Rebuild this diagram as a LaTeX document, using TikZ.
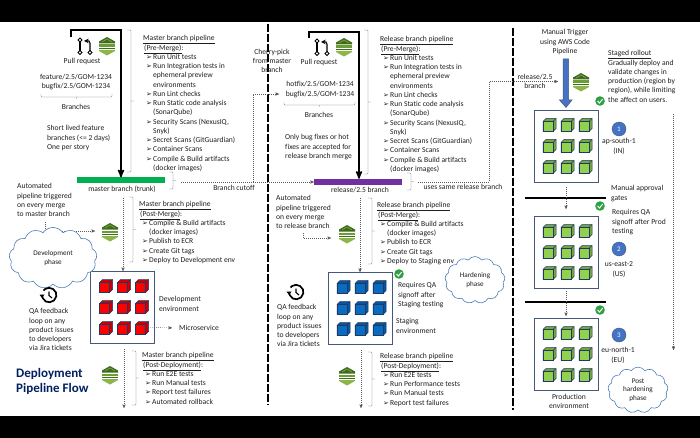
\documentclass[tikz,border=0pt]{standalone}
\usepackage{fontspec}
\setmainfont{Carlito}[Ligatures=NoCommon]
\newfontfamily\symf{DejaVu Sans}
\usetikzlibrary{arrows,calc,positioning,shapes.symbols}
\definecolor{inktext}{HTML}{1E1E1E}
\definecolor{boxline}{HTML}{44587A}
\definecolor{cubeline}{HTML}{1F3864}
\definecolor{cloudline}{HTML}{4F7DB8}
\definecolor{titlenavy}{HTML}{002060}
\definecolor{cubered}{HTML}{FF0000}
\definecolor{cubeblue}{HTML}{0A6CC0}
\definecolor{cubegreen}{HTML}{92D050}
\definecolor{barpurple}{HTML}{7030A0}
\definecolor{bargreen}{HTML}{00B050}
\definecolor{stepblue}{HTML}{4472C4}
\definecolor{okgreen}{HTML}{2EA043}
\definecolor{awsdark}{HTML}{3F6B1E}
\definecolor{awsmid}{HTML}{6B9E32}
\definecolor{awslight}{HTML}{8DB64A}
\newcommand{\itm}[1]{\hspace*{3pt}\makebox[7pt][l]{\symf\fontsize{7}{7}\selectfont ➢}#1}
\newcommand{\cnt}[1]{\hspace*{10pt}#1}
\tikzset{txt/.style={inner sep=0pt,align=left,anchor=north west,yshift=-2pt,text=inktext,font=\fontsize{7.6}{9.25}\selectfont},
         ctr/.style={inner sep=0pt,align=center,text=inktext,font=\fontsize{7.6}{9.25}\selectfont},
         divider/.style={draw=black,line width=1.4pt,dash pattern=on 8pt off 2pt},
         pr line/.style={->,black,line width=1.6pt,line join=miter},
         dot line/.style={->,black!65,dash pattern=on 0.8pt off 1.2pt,thin},
         gate line/.style={black,line width=1.6pt},
         brk/.style={draw=black!55,thin,rounded corners=0.8pt},
         bracket right/.style={to path={-- ++(4,0) |- (\tikztotarget) ($(\tikztostart)!0.5!(\tikztotarget)+(4,0)$) -- ++(3,0)}},
         bracket down/.style={to path={-- ++(0,3) -| (\tikztotarget) ($(\tikztostart)!0.5!(\tikztotarget)+(0,3)$) -- ++(0,2)}},
         branch bar/.style={inner sep=0pt,minimum height=6pt,minimum width=88pt},
         env box/.style={draw=boxline,line width=0.8pt,fill=white,inner sep=0pt,minimum width=64pt,minimum height=72pt},
         phase cloud/.style={cloud,cloud puffs=13,cloud puff arc=110,draw=cloudline,fill=white,line width=0.6pt,inner sep=0pt,text=inktext,align=center,font=\fontsize{7.2}{8.6}\selectfont},
         step num/.style={circle,fill=stepblue,draw=boxline,text=white,inner sep=0pt,minimum size=14pt,font=\fontsize{7}{7}\selectfont},
         cube/.pic={
             \draw[cubeline,fill=#1!80!black,line width=0.5pt,line join=round] (-5,-3.5) -- (-2,-6.5) -- (8,-6.5) -- (8,3.5) -- (5,6.5) -- (-5,6.5) -- cycle;
             \draw[cubeline,fill=#1,line width=0.5pt] (-5,-3.5) rectangle (5,6.5);
             \draw[cubeline,line width=0.5pt] (5,-3.5) -- (8,-6.5);
         },
         awsicon/.pic={
             \fill[awsdark] (-8,-2.5) -- (-8,-4.5) -- (0,-9) -- (8,-4.5) -- (8,-2.5) -- cycle;
             \fill[awsmid] (-8,-1.5) rectangle (8,0.8);
             \fill[awsdark] (-8,1.8) rectangle (8,3);
             \fill[awslight] (-8,4) -- (8,4) -- (8,5) -- (0,9.5) -- (-8,5) -- cycle;
             \draw[awslight,line width=0.5pt] (-5,-4) -- (0,-7) -- (5,-4);
         },
         gitpr/.pic={
             \draw[black,line width=1.1pt] (-5,-4) -- (-5,5);
             \draw[black,line width=1.1pt,->,>=stealth] (5,5) -- (5,-3) -- (4,-5) -- (-1,-5);
             \draw[black,line width=0.9pt,fill=white] (-5,-6) circle (1.9pt) (-5,6.5) circle (1.9pt) (5,6.5) circle (1.9pt);
         },
         histicon/.pic={
             \draw[black,line width=1.7pt] (-5.5,-4.5) -- (-3.8,-6) -- (0,-7.2) -- (4,-6) -- (7,-2.5) -- (7.2,1.5) -- (5,5.5) -- (1,7.2) -- (-3,6.6) -- (-6,3.5) -- (-7.2,0);
             \fill[black] (-9.5,-0.5) -- (-4.5,-0.5) -- (-7,3) -- cycle;
             \draw[black,line width=1.1pt] (0,-3.5) -- (0,0.5) -- (3,3);
         },
         okmark/.pic={
             \fill[okgreen] (0,0) circle (4.8pt);
             \draw[white,line width=1pt] (-2.4,0) -- (-0.6,2) -- (2.6,-1.8);
         },
}
\newcommand{\envcubes}[3]{%
  \foreach \cx in {14.5,32.5,50.5}
    \foreach \cy in {15,36,57}
      \pic at (#1+\cx,#2+\cy) {cube=#3};
}
\begin{document}
\begin{tikzpicture}[x=1pt,y=-1pt,>=stealth']
\useasboundingbox (0,0) rectangle (700,438);
\fill[black] (0,0) rectangle (700,21.7);
\fill[black] (0,415.6) rectangle (700,438);
% dividers
\coordinate (diva) at (268,24);
\coordinate (divb) at (268,405);
\coordinate (divc) at (513,28);
\coordinate (divd) at (513,410);
\draw[divider] (diva) -- (divb);
\draw[divider] (divc) -- (divd);

% master column
\node[branch bar,fill=bargreen] (masterbar) at (121,180.5) {};
\coordinate (mprs) at (71,37);
\coordinate (mprc) at (121,30);
\draw[pr line] (mprs) |- (mprc) -- (masterbar.north);
\pic at (85,46) {gitpr};
\pic at (107,46) {awsicon};
\node[ctr] (mprtext) at (82,61) {Pull request};
\node[ctr] (mbranches) at (76,82) {feature/2.5/GOM-1234\\bugfix/2.5/GOM-1234};
\coordinate (mbra) at (41,94);
\coordinate (mbrb) at (112,94);
\draw[brk] (mbra) to[bracket down] (mbrb);
\node[ctr] (mbranchlbl) at (76,107) {Branches};
\node[txt] (mshort) at (47,123.5) {Short lived feature\\branches (<= 2 days)\\One per story};
\coordinate (mbka) at (127,30);
\coordinate (mbkb) at (127,172);
\draw[brk] (mbka) to[bracket right] (mbkb);
\node[txt] (mpre) at (143,33.5) {\underline{Master branch pipeline}\\\hspace*{1pt}\underline{(Pre-Merge)}:\\
  \itm{Run Unit tests}\\\itm{Run Integration tests in}\\\cnt{ephemeral preview}\\\cnt{environments}\\
  \itm{Run Lint checks}\\\itm{Run Static code analysis}\\\cnt{(SonarQube)}\\\itm{Security Scans (NexusIQ,}\\\cnt{Snyk)}\\
  \itm{Secret Scans (GitGuardian)}\\\itm{Container Scans}\\\itm{Compile \& Build artifacts}\\\cnt{(docker images)}};
\node[ctr] (mtrunk) at (122,189) {master branch (trunk)};
\coordinate (mcuta) at (169,172);
\coordinate (mcutb) at (169,189);
\draw[brk] (mcuta) to[bracket right] (mcutb);
\node[ctr] (mcutlbl) at (234,188) {Branch cutoff};
\node[txt] (mauto) at (17,181.5) {Automated\\pipeline triggered\\on every merge\\to master branch};
\coordinate (mauta) at (45,222);
\coordinate (mautb) at (95,231);
\draw[dot line] (mauta) |- (mautb);
\pic at (110,232) {awsicon};
\node[env box,anchor=north west] (devbox) at (90,271) {};
\envcubes{90}{271}{cubered}
\coordinate (mposta) at (123,198);
\draw[dot line] (mposta) -- (devbox.north -| mposta);
\coordinate (mpoa) at (129,197);
\coordinate (mpob) at (129,262);
\draw[brk] (mpoa) to[bracket right] (mpob);
\node[txt] (mpost) at (139,199.5) {\underline{Master branch pipeline}\\\hspace*{1pt}\underline{(Post-Merge)}:\\
  \itm{Compile \& Build artifacts}\\\cnt{(docker images)}\\\itm{Publish to ECR}\\\itm{Create Git tags}\\\itm{Deploy to Development env}};
\node[phase cloud,minimum width=88pt,minimum height=36pt] (devcloud) at (53,258) {Development\\phase};
\pic at (49,295) {histicon};
\node[txt] (mqa) at (29,306.5) {QA feedback\\loop on any\\product issues\\to developers\\via Jira tickets};
\node[txt] (devenv) at (159,294.5) {Development\\environment};
\coordinate (msvc) at (150,327.5);
\node[ctr,anchor=west] (msvclbl) at (179,328) {Microservice};
\draw[dot line,shorten >=7pt] (msvc) -- (msvclbl.west);
\coordinate (mdeca) at (124,349);
\coordinate (mdecb) at (124,408);
\draw[dot line] (mdeca) -- (mdecb);
\pic at (110,375) {awsicon};
\coordinate (mdpa) at (132,351);
\coordinate (mdpb) at (132,405);
\draw[brk] (mdpa) to[bracket right] (mdpb);
\node[txt] (mdep) at (142,350.5) {\underline{Master branch pipeline}\\\hspace*{1pt}\underline{(Post-Deployment)}:\\
  \itm{Run E2E tests}\\\itm{Run Manual tests}\\\itm{Report test failures}\\\itm{Automated rollback}};
\node[txt,yshift=2pt,text=titlenavy,font=\fontsize{13}{15.5}\selectfont\bfseries] (flowtitle) at (16,368) {Deployment\\Pipeline Flow};

% release column
\node[branch bar,fill=barpurple] (relbar) at (358,182) {};
\coordinate (rprs) at (309,38);
\coordinate (rprc) at (359,32);
\draw[pr line] (rprs) |- (rprc) -- (relbar.north -| rprc);
\pic at (322,47) {gitpr};
\pic at (344,47) {awsicon};
\node[ctr] (rprtext) at (319,62) {Pull request};
\node[ctr] (rcherry) at (272,61) {Cherry-pick\\from master\\branch};
\node[ctr] (rbranches) at (320,89.5) {hotfix/2.5/GOM-1234\\bugfix/2.5/GOM-1234};
\coordinate (rbra) at (284,102);
\coordinate (rbrb) at (355,102);
\draw[brk] (rbra) to[bracket down] (rbrb);
\node[ctr] (rbranchlbl) at (319,115) {Branches};
\node[txt] (ronly) at (285,132.5) {Only bug fixes or hot\\fixes are accepted for\\release branch merge};
\coordinate (rbka) at (364,30);
\coordinate (rbkb) at (364,174);
\draw[brk] (rbka) to[bracket right] (rbkb);
\node[txt] (rpre) at (380,34.5) {\underline{Release branch pipeline}\\\hspace*{1pt}\underline{(Pre-Merge)}:\\
  \itm{Run Unit tests}\\\itm{Run Integration tests in}\\\cnt{ephemeral preview}\\\cnt{environments}\\
  \itm{Run Lint checks}\\\itm{Run Static code analysis}\\\cnt{(SonarQube)}\\\itm{Security Scans (NexusIQ,}\\\cnt{Snyk)}\\
  \itm{Secret Scans (GitGuardian)}\\\itm{Container Scans}\\\itm{Compile \& Build artifacts}\\\cnt{(docker images)}};
\node[ctr] (rrel) at (360,190) {release/2.5 branch};
\coordinate (rcuta) at (407,173);
\coordinate (rcutb) at (407,190);
\draw[brk] (rcuta) to[bracket right] (rcutb);
\node[ctr] (rsame) at (463,187) {uses same release branch};
\node[txt] (rauto) at (276,193.5) {Automated\\pipeline triggered\\on every merge\\to release branch};
\coordinate (rauta) at (303,233);
\coordinate (rautb) at (331,238);
\draw[dot line] (rauta) |- (rautb);
\pic at (347,234) {awsicon};
\node[env box,anchor=north west] (stagebox) at (327.5,272) {};
\envcubes{327.5}{272}{cubeblue}
\coordinate (rposta) at (360,198);
\draw[dot line] (rposta) -- (stagebox.north -| rposta);
\coordinate (rpoa) at (368,198);
\coordinate (rpob) at (368,264);
\draw[brk] (rpoa) to[bracket right] (rpob);
\node[txt] (rpost) at (377,200.5) {\underline{Release branch pipeline}\\\hspace*{1pt}\underline{(Post-Merge)}:\\
  \itm{Compile \& Build artifacts}\\\cnt{(docker images)}\\\itm{Publish to ECR}\\\itm{Create Git tags}\\\itm{Deploy to Staging env}};
\pic at (399,274) {okmark};
\node[txt] (rsign) at (398,280.5) {Requires QA\\signoff after\\Staging testing};
\node[txt] (stageenv) at (396,316.5) {Staging\\environment};
\node[phase cloud,minimum width=60pt,minimum height=33pt] (hardcloud) at (475,280) {Hardening\\phase};
\pic at (296,292) {histicon};
\node[txt] (rqa) at (277,302.5) {QA feedback\\loop on any\\product issues\\to developers\\via Jira tickets};
\coordinate (rdeca) at (361,350);
\coordinate (rdecb) at (361,408);
\draw[dot line] (rdeca) -- (rdecb);
\pic at (347,376) {awsicon};
\coordinate (rdpa) at (368,352);
\coordinate (rdpb) at (368,406);
\draw[brk] (rdpa) to[bracket right] (rdpb);
\node[txt] (rdep) at (380,351.5) {\underline{Release branch pipeline}\\\hspace*{1pt}\underline{(Post-Deployment)}:\\
  \itm{Run E2E tests}\\\itm{Run Performance tests}\\\itm{Run Manual tests}\\\itm{Report test failures}};

% cutoff and release links
\coordinate (cutstart) at (181,182);
\coordinate (cuttee) at (253,182);
\coordinate (hotfixtop) at (253,94);
\coordinate (hotfixend) at (279,94);
\draw[dot line] (cutstart) -- (relbar.west);
\draw[dot line] (cuttee) -- (hotfixtop) -- (hotfixend);
\coordinate (samestart) at (418,182);
\coordinate (samecorner) at (489,81.5);
\coordinate (sameend) at (558,81.5);
\draw[dot line] (samestart) -| (samecorner) -- (sameend);

% production column
\node[ctr] (prodtrig) at (565,42) {Manual Trigger\\using AWS Code\\Pipeline};
\draw[draw=boxline,fill=stepblue,line width=0.5pt] (563,59) -- (568.5,59) -- (568.5,100) -- (572,100) -- (566,107.5) -- (559.5,100) -- (563,100) -- cycle;
\node[ctr] (prodrel) at (535,81.5) {release/2.5\\branch};
\pic at (581,82) {awsicon};
\pic at (600,101) {okmark};
\node[txt] (staged) at (608,48.5) {\underline{Staged rollout}\\Gradually deploy and\\validate changes in\\production (region by\\region), while limiting\\the affect on users.};
\node[env box,anchor=north west] (prodboxa) at (533.5,110) {};
\envcubes{533.5}{110}{cubegreen}
\node[step num] (numa) at (619,129) {1};
\node[ctr] (regiona) at (619,146.5) {ap-south-1\\(IN)};
\coordinate (gatea) at (525,198);
\coordinate (gateb) at (606,198);
\draw[gate line] (gatea) -- (gateb);
\coordinate (gatedotb) at (566,187);
\coordinate (gatedotc) at (566,209);
\node[env box,anchor=north west] (prodboxb) at (533.5,216) {};
\envcubes{533.5}{216}{cubegreen}
\draw[dot line] (gatedotb) -- (gatedotc);
\node[txt] (gatetext) at (611,183.5) {Manual approval\\gates};
\pic at (600,206) {okmark};
\node[txt] (prodsign) at (612,207.5) {Requires QA\\signoff after Prod\\testing};
\node[step num] (numb) at (619,249) {2};
\node[ctr] (regionb) at (619,269.5) {us-east-2\\(US)};
\coordinate (gatec) at (525,302);
\coordinate (gated) at (606,302);
\draw[gate line] (gatec) -- (gated);
\coordinate (gatedota) at (566,291);
\coordinate (gatedotd) at (566,316);
\draw[dot line] (gatedota) -- (gatedotd);
\pic at (600,310) {okmark};
\node[env box,anchor=north west] (prodboxc) at (533.5,318) {};
\envcubes{533.5}{318}{cubegreen}
\node[step num] (numc) at (619,335) {3};
\node[ctr] (regionc) at (618,355.5) {eu-north-1\\(EU)};
\node[ctr] (prodenv) at (569,401.5) {Production\\environment};
\node[phase cloud,minimum width=60pt,minimum height=44pt] (postcloud) at (638,390) {Post\\hardening\\phase};
\coordinate (posta) at (673.5,114);
\coordinate (postb) at (673.5,350);
\draw[dot line] (posta) -- (postb);
\end{tikzpicture}
\end{document}
